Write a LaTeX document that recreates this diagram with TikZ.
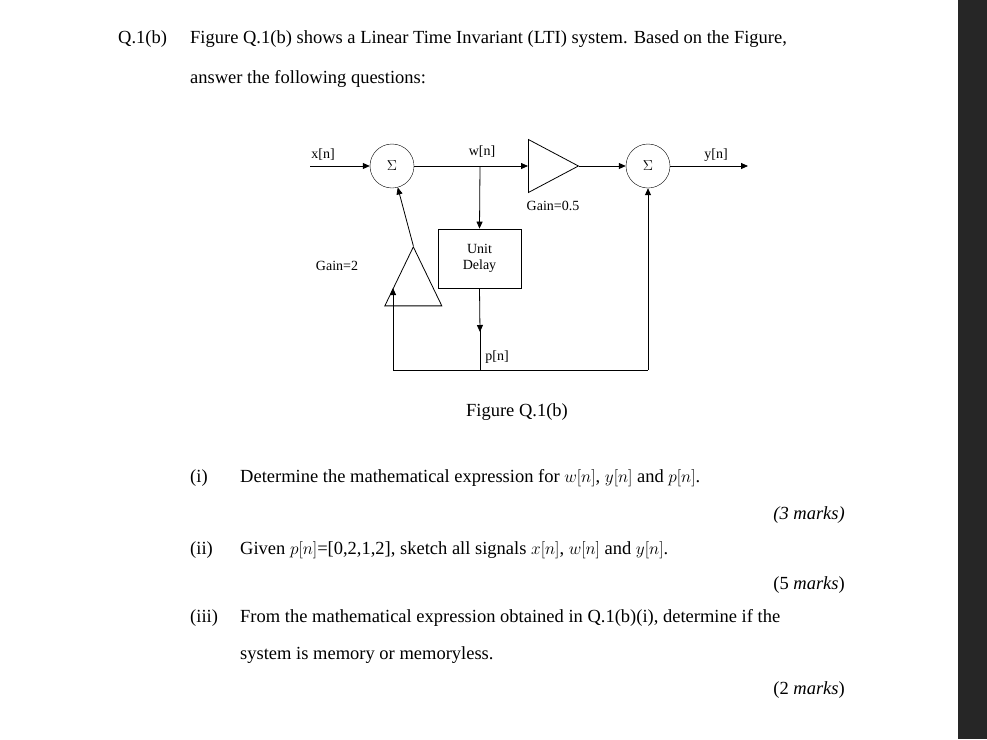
\documentclass[tikz,border=0pt]{standalone}
\usepackage{fontspec}
\setmainfont{Liberation Serif}
\usetikzlibrary{shapes.geometric,arrows.meta}
\begin{document}
\begin{tikzpicture}[x=1pt,y=-1pt,
  body/.style={font=\fontsize{18.5}{22}\selectfont,inner sep=0pt,anchor=west},
  lab/.style={font=\fontsize{14}{16}\selectfont,inner sep=1pt},
  sum/.style={circle,draw,minimum size=44pt,inner sep=0pt,font=\fontsize{15}{16}\selectfont},
  sig/.style={-{Triangle[length=7pt,width=6pt]},line width=0.8pt},
  ln/.style={line width=0.8pt}]
\useasboundingbox (0,0) rectangle (987,739);
\fill[black!85] (958,0) rectangle (987,739);
% text
\node[body] (q) at (118,39) {Q.1(b)};
\node[body] (t1) at (190,39) {Figure Q.1(b) shows a Linear Time Invariant (LTI) system. Based on the Figure,};
\node[body] (t2) at (190,79) {answer the following questions:};
\node[body] (i) at (190,478) {(i)};
\node[body] (it) at (240,478) {Determine the mathematical expression for $w[n]$, $y[n]$ and $p[n]$.};
\node[body,anchor=east] (m1) at (845,515) {\itshape(3 marks)};
\node[body] (ii) at (190,550) {(ii)};
\node[body] (iit) at (240,550) {Given $p[n]$=[0,2,1,2], sketch all signals $x[n]$, $w[n]$ and $y[n]$.};
\node[body,anchor=east] (m2) at (845,585) {(5 \textit{marks})};
\node[body] (iii) at (190,618) {(iii)};
\node[body] (iiit) at (240,618) {From the mathematical expression obtained in Q.1(b)(i), determine if the};
\node[body] (iiit2) at (240,655) {system is memory or memoryless.};
\node[body,anchor=east] (m3) at (845,690) {(2 \textit{marks})};
\node[body,anchor=center] (cap) at (517,412) {Figure Q.1(b)};
% diagram
\node[sum] (s1) at (392,166) {$\Sigma$};
\node[sum] (s2) at (648,166) {$\Sigma$};
\node[isosceles triangle,draw,line width=0.8pt,minimum height=50pt,minimum width=53pt,inner sep=0pt,isosceles triangle stretches,anchor=west] (g1) at (528,166) {};
\node[isosceles triangle,draw,line width=0.8pt,shape border rotate=90,minimum height=59pt,minimum width=57pt,inner sep=0pt,isosceles triangle stretches,anchor=west] (g2) at (393,288) {};
\node[draw,line width=0.8pt,minimum width=83pt,minimum height=59pt,inner sep=0pt,lab,align=center] (ud) at (479.5,258.5) {Unit\\Delay};
\coordinate (xin) at (310,166);
\coordinate (br) at (480,166);
\coordinate (pb) at (480,370);
\coordinate (bl) at (393,370);
\coordinate (brr) at (648,370);
\coordinate (yout) at (748,166);
\draw[sig] (xin) -- (s1);
\draw[ln] (s1) -- (br);
\draw[sig] (br) -- (g1.west);
\draw[sig] (br) -- (ud.north);
\draw[sig] (g1.east) -- (s2);
\draw[sig] (s2) -- (yout);
\draw[sig] (g2.apex) -- (s1);
\draw[sig] (ud.south) -- (480,332);
\draw[ln] (480,330) -- (pb);
\draw[sig] (bl) -- (g2.west);
\draw[ln] (bl) -- (brr);
\draw[sig] (brr) -- (s2);
\node[lab] (lx) at (323,155) {x[n]};
\node[lab] (lw) at (482,152) {w[n]};
\node[lab] (ly) at (716,155) {y[n]};
\node[lab] (lg1) at (553,206) {Gain=0.5};
\node[lab] (lg2) at (337,266) {Gain=2};
\node[lab] (lp) at (497,357) {p[n]};
\end{tikzpicture}
\end{document}
